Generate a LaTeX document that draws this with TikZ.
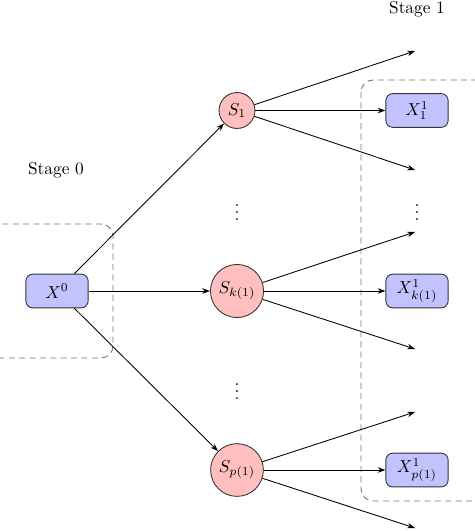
\documentclass[tikz,border=0pt]{standalone}
\usetikzlibrary{arrows.meta}
\begin{document}
\begin{tikzpicture}[x=0.578pt,y=-0.578pt,
  xbox/.style={draw=black!80, fill=blue!24, rounded corners=4pt, minimum width=36pt, minimum height=19.5pt, inner sep=1pt, line width=0.5pt},
  snode/.style={draw=black!80, fill=red!25, circle, inner sep=2.6pt, line width=0.5pt},
  stagebox/.style={draw=black!55, dashed, dash pattern=on 3.5pt off 2.5pt, rounded corners=7pt, line width=0.5pt},
  arr/.style={-{Stealth[length=4.5pt,width=3.2pt]}, black, line width=0.5pt}]
\useasboundingbox (0,0) rectangle (474,531);
% dashed boxes
\draw[stagebox] (-20,224) rectangle (113,358);
\draw[stagebox] (361,80) rectangle (495,501);
% labels
\node (st0) at (56,170) {Stage 0};
\node (st1) at (417,9) {Stage 1};
% nodes
\node[xbox] (x0) at (57,291) {$X^0$};
\node[snode] (s1) at (237,110.5) {$S_1$};
\node[snode] (sk) at (237,291) {$S_{k(1)}$};
\node[snode] (sp) at (237,470) {$S_{p(1)}$};
\node[xbox] (x1) at (417,110.5) {$X^1_1$};
\node[xbox] (xk) at (417,291) {$X^1_{k(1)}$};
\node[xbox] (xp) at (417,470) {$X^1_{p(1)}$};
\node (d1) at (237,207) {$\vdots$};
\node (d2) at (237,386) {$\vdots$};
\node (d3) at (417,207) {$\vdots$};
% free ends
\coordinate (a1) at (415,51);
\coordinate (b1) at (415,170);
\coordinate (ak) at (415,232);
\coordinate (bk) at (415,349);
\coordinate (ap) at (415,412);
\coordinate (bp) at (415,528);
% connectors
\draw[arr] (x0) -- (s1);
\draw[arr] (x0) -- (sk);
\draw[arr] (x0) -- (sp);
\draw[arr] (s1) -- (a1);
\draw[arr] (s1) -- (x1);
\draw[arr] (s1) -- (b1);
\draw[arr] (sk) -- (ak);
\draw[arr] (sk) -- (xk);
\draw[arr] (sk) -- (bk);
\draw[arr] (sp) -- (ap);
\draw[arr] (sp) -- (xp);
\draw[arr] (sp) -- (bp);
\end{tikzpicture}
\end{document}
